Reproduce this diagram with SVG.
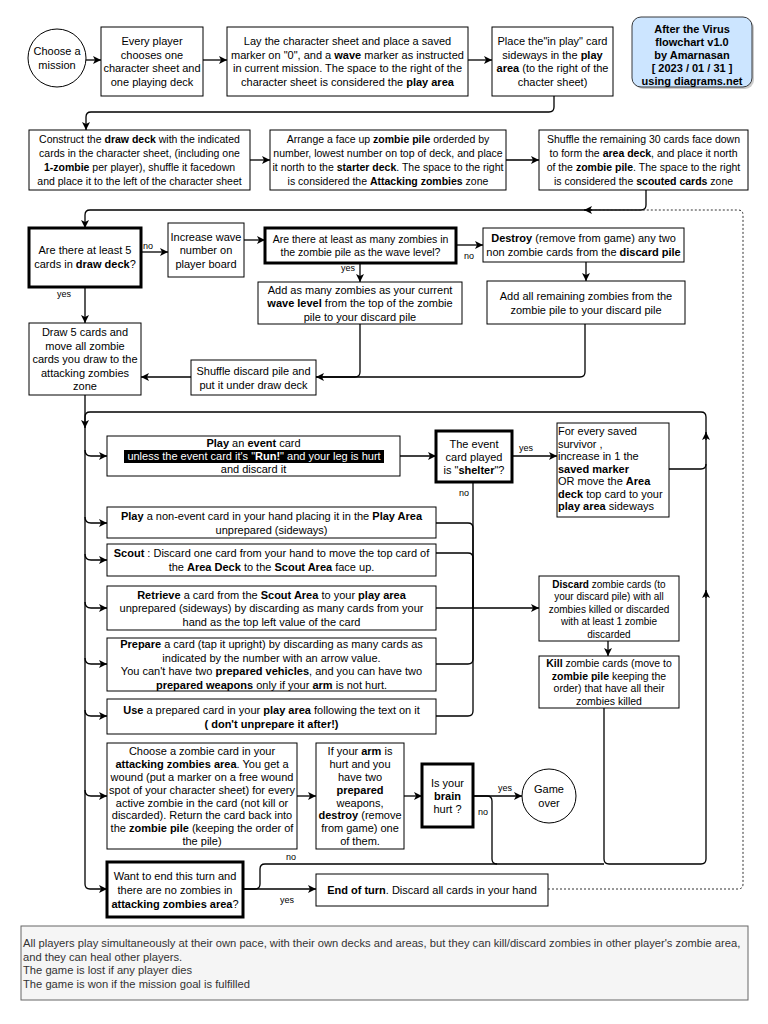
<svg xmlns="http://www.w3.org/2000/svg" width="768" height="1024" viewBox="0 0 768 1024">
<style>
.b{fill:#fff;stroke:#000;stroke-width:1}
.d{fill:#fff;stroke:#000;stroke-width:3}
.t{font-family:"Liberation Sans",Arial,sans-serif;font-size:11px;fill:#000;text-anchor:middle}
.s{font-size:10.5px}
.xs{font-size:10px}
.la{text-anchor:start}
.lb{font-family:"Liberation Sans",Arial,sans-serif;font-size:9px;fill:#000;text-anchor:middle}
.bo{font-weight:bold}
.c{fill:none;stroke:#000;stroke-width:1.3}
.dash{fill:none;stroke:#333;stroke-width:1;stroke-dasharray:2 2}
.ft{font-size:11.2px;fill:#333}
</style>
<defs>
<marker id="a" markerUnits="userSpaceOnUse" markerWidth="10" markerHeight="10" refX="8" refY="4" orient="auto">
<path d="M0,0 L8,4 L0,8 L2,4 z" fill="#000"/>
</marker>
</defs>
<rect width="768" height="1024" fill="#fff"/>

<g id="connectors">
<path class="c" d="M86,60 H101" marker-end="url(#a)"/>
<path class="c" d="M203,60 H227" marker-end="url(#a)"/>
<path class="c" d="M468,60 H492" marker-end="url(#a)"/>
<path class="c" d="M554,96 V107 Q554,112 549,112 H91 Q86,112 86,117 V130" marker-end="url(#a)"/>
<path class="c" d="M250,160 H270" marker-end="url(#a)"/>
<path class="c" d="M506,160 H539" marker-end="url(#a)"/>
<path class="c" d="M646,190 V205 Q646,210 641,210 H90 Q85,210 85,215 V228" marker-end="url(#a)"/>
<path class="dash" d="M548,889 H738 Q743,889 743,884 V215 Q743,210 738,210 H590"/>
<path class="c" d="M592,210 H584" marker-end="url(#a)"/>
<path class="c" d="M141,252 H168" marker-end="url(#a)"/>
<path class="c" d="M244,240 H265" marker-end="url(#a)"/>
<path class="c" d="M456,245 H483" marker-end="url(#a)"/>
<path class="c" d="M360,263 V282" marker-end="url(#a)"/>
<path class="c" d="M586,262 V281" marker-end="url(#a)"/>
<path class="c" d="M360,324 V372 Q360,377 355,377 H316"/>
<path class="c" d="M585,324 V372 Q585,377 580,377 H316" marker-end="url(#a)"/>
<path class="c" d="M191,377 H141" marker-end="url(#a)"/>
<path class="c" d="M85,287 V323" marker-end="url(#a)"/>
<path class="c" d="M85,395 V884 Q85,889 90,889 H107" marker-end="url(#a)"/>
<path class="c" d="M706,417 Q706,412 701,412 H90 Q85,412 85,417 V428" marker-end="url(#a)"/>
<path class="c" d="M85,450 Q85,456 91,456 H107" marker-end="url(#a)"/>
<path class="c" d="M85,517 Q85,523 91,523 H107" marker-end="url(#a)"/>
<path class="c" d="M85,554 Q85,560 91,560 H107" marker-end="url(#a)"/>
<path class="c" d="M85,602 Q85,608 91,608 H107" marker-end="url(#a)"/>
<path class="c" d="M85,658 Q85,664 91,664 H107" marker-end="url(#a)"/>
<path class="c" d="M85,710 Q85,716 91,716 H107" marker-end="url(#a)"/>
<path class="c" d="M85,790 Q85,796 91,796 H107" marker-end="url(#a)"/>
<path class="c" d="M400,456 H436" marker-end="url(#a)"/>
<path class="c" d="M512,456 H557" marker-end="url(#a)"/>
<path class="c" d="M669,469 H701 Q706,469 706,464 V417"/>
<path class="c" d="M706,440 V432" marker-end="url(#a)"/>
<path class="c" d="M473,482 V608 H539" marker-end="url(#a)"/>
<path class="c" d="M436,523 H468 Q473,523 473,528 V608"/>
<path class="c" d="M436,553 H468 Q473,553 473,558 V608"/>
<path class="c" d="M436,608 H473"/>
<path class="c" d="M436,664 H468 Q473,664 473,659 V608"/>
<path class="c" d="M436,716 H468 Q473,716 473,711 V608"/>
<path class="c" d="M608,641 V656" marker-end="url(#a)"/>
<path class="c" d="M604,708 V859 Q604,864 609,864 H701 Q706,864 706,859 V464"/>
<path class="c" d="M706,598 V590" marker-end="url(#a)"/>
<path class="c" d="M297,796 H316" marker-end="url(#a)"/>
<path class="c" d="M404,796 H422" marker-end="url(#a)"/>
<path class="c" d="M473,796 H522" marker-end="url(#a)"/>
<path class="c" d="M473,796 H487 Q492,796 492,801 V859 Q492,864 497,864 H604"/>
<path class="c" d="M243,889 H255 Q260,889 260,884 V869 Q260,864 265,864 H497"/>
<path class="c" d="M243,889 H316" marker-end="url(#a)"/>
</g>

<g id="labels">
<text class="lb" x="148" y="249">no</text>
<text class="lb" x="64" y="297">yes</text>
<text class="lb" x="348" y="271">yes</text>
<text class="lb" x="469" y="259">no</text>
<text class="lb" x="526" y="451">yes</text>
<text class="lb" x="464" y="496">no</text>
<text class="lb" x="505" y="791">yes</text>
<text class="lb" x="483" y="815">no</text>
<text class="lb" x="291" y="860">no</text>
<text class="lb" x="287" y="903">yes</text>
</g>

<g id="start">
<circle class="b" cx="57" cy="58" r="29"/>
<text class="t" x="57" y="55">Choose a</text>
<text class="t" x="57" y="69">mission</text>
</g>

<g id="choose-sheet">
<rect class="b" x="101" y="27" width="102" height="69"/>
<text class="t" x="152" y="45">Every player</text>
<text class="t" x="152" y="59">chooses one</text>
<text class="t" x="152" y="72">character sheet and</text>
<text class="t" x="152" y="86">one playing deck</text>
</g>

<g id="lay-sheet">
<rect class="b" x="227" y="27" width="241" height="69"/>
<text class="t" x="347.5" y="45">Lay the character sheet and place a saved</text>
<text class="t" x="347.5" y="59">marker on "0", and a <tspan class="bo">wave</tspan> marker as instructed</text>
<text class="t" x="347.5" y="72">in current mission. The space to the right of the</text>
<text class="t" x="347.5" y="86">character sheet is considered the <tspan class="bo">play area</tspan></text>
</g>

<g id="in-play">
<rect class="b" x="492" y="27" width="121" height="69"/>
<text class="t" x="552.5" y="45">Place the"in play" card</text>
<text class="t" x="552.5" y="59">sideways in the <tspan class="bo">play</tspan></text>
<text class="t" x="552.5" y="72"><tspan class="bo">area</tspan> (to the right of the</text>
<text class="t" x="552.5" y="86">chacter sheet)</text>
</g>

<g id="title">
<rect x="634" y="19" width="120" height="70" rx="9" fill="#999" opacity="0.5"/>
<rect x="632" y="17" width="120" height="70" rx="9" fill="#cce5ff" stroke="#36393d" stroke-width="1"/>
<text class="t bo" x="692" y="32.5">After the Virus</text>
<text class="t bo" x="692" y="45.5">flowchart v1.0</text>
<text class="t bo" x="692" y="58.5">by Amarnasan</text>
<text class="t bo" x="692" y="71.5">[ 2023 / 01 / 31 ]</text>
<text class="t bo" x="692" y="84.5">using diagrams.net</text>
</g>

<g id="construct">
<rect class="b" x="29" y="130" width="221" height="60"/>
<text class="t s" x="139.5" y="143">Construct the <tspan class="bo">draw deck</tspan> with the indicated</text>
<text class="t s" x="139.5" y="157">cards in the character sheet, (including one</text>
<text class="t s" x="139.5" y="171"><tspan class="bo">1-zombie</tspan> per player), shuffle it facedown</text>
<text class="t s" x="139.5" y="185">and place it to the left of the character sheet</text>
</g>

<g id="arrange">
<rect class="b" x="270" y="130" width="236" height="60"/>
<text class="t s" x="388" y="143">Arrange a face up <tspan class="bo">zombie pile</tspan> orderded by</text>
<text class="t s" x="388" y="157">number, lowest number on top of deck, and place</text>
<text class="t s" x="388" y="171">it north to the <tspan class="bo">starter deck</tspan>. The space to the right</text>
<text class="t s" x="388" y="185">is considered the <tspan class="bo">Attacking zombies</tspan> zone</text>
</g>

<g id="shuffle-area">
<rect class="b" x="539" y="130" width="209" height="60"/>
<text class="t s" x="643.5" y="143">Shuffle the remaining 30 cards face down</text>
<text class="t s" x="643.5" y="157">to form the <tspan class="bo">area deck</tspan>, and place it north</text>
<text class="t s" x="643.5" y="171">of the <tspan class="bo">zombie pile</tspan>. The space to the right</text>
<text class="t s" x="643.5" y="185">is considered the <tspan class="bo">scouted cards</tspan> zone</text>
</g>

<g id="five-cards">
<rect class="d" x="29" y="228" width="112" height="59"/>
<text class="t" x="85" y="254">Are there at least 5</text>
<text class="t" x="85" y="268">cards in <tspan class="bo">draw deck</tspan>?</text>
</g>

<g id="increase-wave">
<rect class="b" x="168" y="223" width="76" height="54"/>
<text class="t" x="206" y="240.5">Increase wave</text>
<text class="t" x="206" y="254">number on</text>
<text class="t" x="206" y="267.5">player board</text>
</g>

<g id="enough-zombies">
<rect class="d" x="265" y="228" width="191" height="35"/>
<text class="t s" x="360.5" y="243">Are there at least as many zombies in</text>
<text class="t s" x="360.5" y="256">the zombie pile as the wave level?</text>
</g>

<g id="destroy">
<rect class="b" x="483" y="228" width="201" height="34"/>
<text class="t" x="583.5" y="242"><tspan class="bo">Destroy</tspan> (remove from game) any two</text>
<text class="t" x="583.5" y="255.5">non zombie cards from the <tspan class="bo">discard pile</tspan></text>
</g>

<g id="add-wave">
<rect class="b" x="258" y="282" width="204" height="42"/>
<text class="t" x="360" y="293.5">Add as many zombies as your current</text>
<text class="t" x="360" y="307"><tspan class="bo">wave level</tspan> from the top of the zombie</text>
<text class="t" x="360" y="320.5">pile to your discard pile</text>
</g>

<g id="add-all">
<rect class="b" x="487" y="281" width="198" height="43"/>
<text class="t" x="586" y="300">Add all remaining zombies from the</text>
<text class="t" x="586" y="314">zombie pile to your discard pile</text>
</g>

<g id="draw-five">
<rect class="b" x="29" y="323" width="112" height="72"/>
<text class="t" x="85" y="336">Draw 5 cards and</text>
<text class="t" x="85" y="349.5">move all zombie</text>
<text class="t" x="85" y="363">cards you draw to the</text>
<text class="t" x="85" y="376.5">attacking zombies</text>
<text class="t" x="85" y="390">zone</text>
</g>

<g id="shuffle-discard">
<rect class="b" x="191" y="360" width="125" height="35"/>
<text class="t" x="253.5" y="374.5">Shuffle discard pile and</text>
<text class="t" x="253.5" y="388.5">put it under draw deck</text>
</g>

<g id="event">
<rect class="b" x="107" y="436" width="293" height="40"/>
<text class="t" x="253.5" y="447"><tspan class="bo">Play</tspan> an <tspan class="bo">event</tspan> card</text>
<rect x="124" y="450" width="260" height="13" fill="#000"/>
<text class="t" x="254" y="460" style="fill:#fff">unless the event card it's "<tspan class="bo">Run!</tspan>" and your leg is hurt</text>
<text class="t" x="253.5" y="473">and discard it</text>
</g>

<g id="shelter">
<rect class="d" x="436" y="431" width="76" height="51"/>
<text class="t" x="474" y="447.5">The event</text>
<text class="t" x="474" y="460.5">card played</text>
<text class="t" x="474" y="473.5">is "<tspan class="bo">shelter</tspan>"?</text>
</g>

<g id="saved">
<rect class="b" x="557" y="423" width="112" height="94"/>
<text class="t la" x="558" y="435">For every saved</text>
<text class="t la" x="558" y="447.5">survivor ,</text>
<text class="t la" x="558" y="460">increase in 1 the</text>
<text class="t la bo" x="558" y="472.5">saved marker</text>
<text class="t la" x="558" y="485">OR move the <tspan class="bo">Area</tspan></text>
<text class="t la" x="558" y="497.5"><tspan class="bo">deck</tspan> top card to your</text>
<text class="t la" x="558" y="510"><tspan class="bo">play area</tspan> sideways</text>
</g>

<g id="play">
<rect class="b" x="107" y="507" width="329" height="31"/>
<text class="t" x="271.5" y="519.5"><tspan class="bo">Play</tspan> a non-event card in your hand placing it in the <tspan class="bo">Play Area</tspan></text>
<text class="t" x="271.5" y="533.5">unprepared (sideways)</text>
</g>

<g id="scout">
<rect class="b" x="107" y="544" width="329" height="32"/>
<text class="t" x="271.5" y="557"><tspan class="bo">Scout</tspan> : Discard one card from your hand to move the top card of</text>
<text class="t" x="271.5" y="571">the <tspan class="bo">Area Deck</tspan> to the <tspan class="bo">Scout Area</tspan> face up.</text>
</g>

<g id="retrieve">
<rect class="b" x="107" y="586" width="329" height="44"/>
<text class="t" x="271.5" y="598.5"><tspan class="bo">Retrieve</tspan> a card from the <tspan class="bo">Scout Area</tspan> to your <tspan class="bo">play area</tspan></text>
<text class="t" x="271.5" y="612">unprepared (sideways) by discarding as many cards from your</text>
<text class="t" x="271.5" y="625.5">hand as the top left value of the card</text>
</g>

<g id="prepare">
<rect class="b" x="107" y="638" width="329" height="53"/>
<text class="t" x="271.5" y="648">
<tspan class="bo">Prepare</tspan> a card (tap it upright) by discarding as many cards as</text>
<text class="t" x="271.5" y="662">indicated by the number with an arrow value.</text>
<text class="t" x="271.5" y="675">You can't have two <tspan class="bo">prepared vehicles</tspan>, and you can have two</text>
<text class="t" x="271.5" y="689"><tspan class="bo">prepared weapons</tspan> only if your <tspan class="bo">arm</tspan> is not hurt.</text>
</g>

<g id="use">
<rect class="b" x="107" y="699" width="329" height="35"/>
<text class="t" x="271.5" y="713.5"><tspan class="bo">Use</tspan> a prepared card in your <tspan class="bo">play area</tspan> following the text on it</text>
<text class="t bo" x="271.5" y="727.5">( don't unprepare it after!)</text>
</g>

<g id="discard">
<rect class="b" x="539" y="576" width="140" height="65"/>
<text class="t xs" x="609" y="587.5"><tspan class="bo">Discard</tspan> zombie cards (to</text>
<text class="t xs" x="609" y="600">your discard pile) with all</text>
<text class="t xs" x="609" y="612.5">zombies killed or discarded</text>
<text class="t xs" x="609" y="625">with at least 1 zombie</text>
<text class="t xs" x="609" y="637.5">discarded</text>
</g>

<g id="kill">
<rect class="b" x="539" y="656" width="140" height="52"/>
<text class="t s" x="609" y="667"><tspan class="bo">Kill</tspan> zombie cards (move to</text>
<text class="t s" x="609" y="680"><tspan class="bo">zombie pile</tspan> keeping the</text>
<text class="t s" x="609" y="692">order) that have all their</text>
<text class="t s" x="609" y="705">zombies killed</text>
</g>

<g id="attacked">
<rect class="b" x="107" y="743" width="190" height="106"/>
<text class="t" x="202" y="755">Choose a zombie card in your</text>
<text class="t" x="202" y="768"><tspan class="bo">attacking zombies area</tspan>. You get a</text>
<text class="t" x="202" y="781">wound (put a marker on a free wound</text>
<text class="t" x="202" y="793.5">spot of your character sheet) for every</text>
<text class="t" x="202" y="806.5">active zombie in the card (not kill or</text>
<text class="t" x="202" y="819">discarded). Return the card back into</text>
<text class="t" x="202" y="832">the <tspan class="bo">zombie pile</tspan> (keeping the order of</text>
<text class="t" x="202" y="845">the pile)</text>
</g>

<g id="arm-hurt">
<rect class="b" x="316" y="743" width="88" height="106"/>
<text class="t" x="360" y="755">If your <tspan class="bo">arm</tspan> is</text>
<text class="t" x="360" y="768">hurt and you</text>
<text class="t" x="360" y="781">have two</text>
<text class="t bo" x="360" y="793.5">prepared</text>
<text class="t" x="360" y="806.5">weapons,</text>
<text class="t" x="360" y="819"><tspan class="bo">destroy</tspan> (remove</text>
<text class="t" x="360" y="832">from game) one</text>
<text class="t" x="360" y="845">of them.</text>
</g>

<g id="brain">
<rect class="d" x="422" y="764" width="51" height="63"/>
<text class="t" x="447.5" y="786.5">Is your</text>
<text class="t bo" x="447.5" y="799.5">brain</text>
<text class="t" x="447.5" y="812.5">hurt ?</text>
</g>

<g id="game-over">
<circle class="b" cx="549" cy="796" r="27"/>
<text class="t" x="549" y="793">Game</text>
<text class="t" x="549" y="807">over</text>
</g>

<g id="end-turn-question">
<rect class="d" x="107" y="862" width="136" height="55"/>
<text class="t" x="175" y="879.5">Want to end this turn and</text>
<text class="t" x="175" y="893.5">there are no zombies in</text>
<text class="t" x="175" y="907.5"><tspan class="bo">attacking zombies area</tspan>?</text>
</g>

<g id="end-turn">
<rect class="b" x="316" y="874" width="232" height="32"/>
<text class="t" x="432" y="894"><tspan class="bo">End of turn</tspan>. Discard all cards in your hand</text>
</g>

<g id="footer">
<rect x="21" y="926" width="727" height="74" fill="#f5f5f5" stroke="#666" stroke-width="1"/>
<text class="t la ft" x="23" y="947">All players play simultaneously at their own pace, with their own decks and areas, but they can kill/discard zombies in other player's zombie area,</text>
<text class="t la ft" x="23" y="961">and they can heal other players.</text>
<text class="t la ft" x="23" y="974">The game is lost if any player dies</text>
<text class="t la ft" x="23" y="988">The game is won if the mission goal is fulfilled</text>
</g>
</svg>
